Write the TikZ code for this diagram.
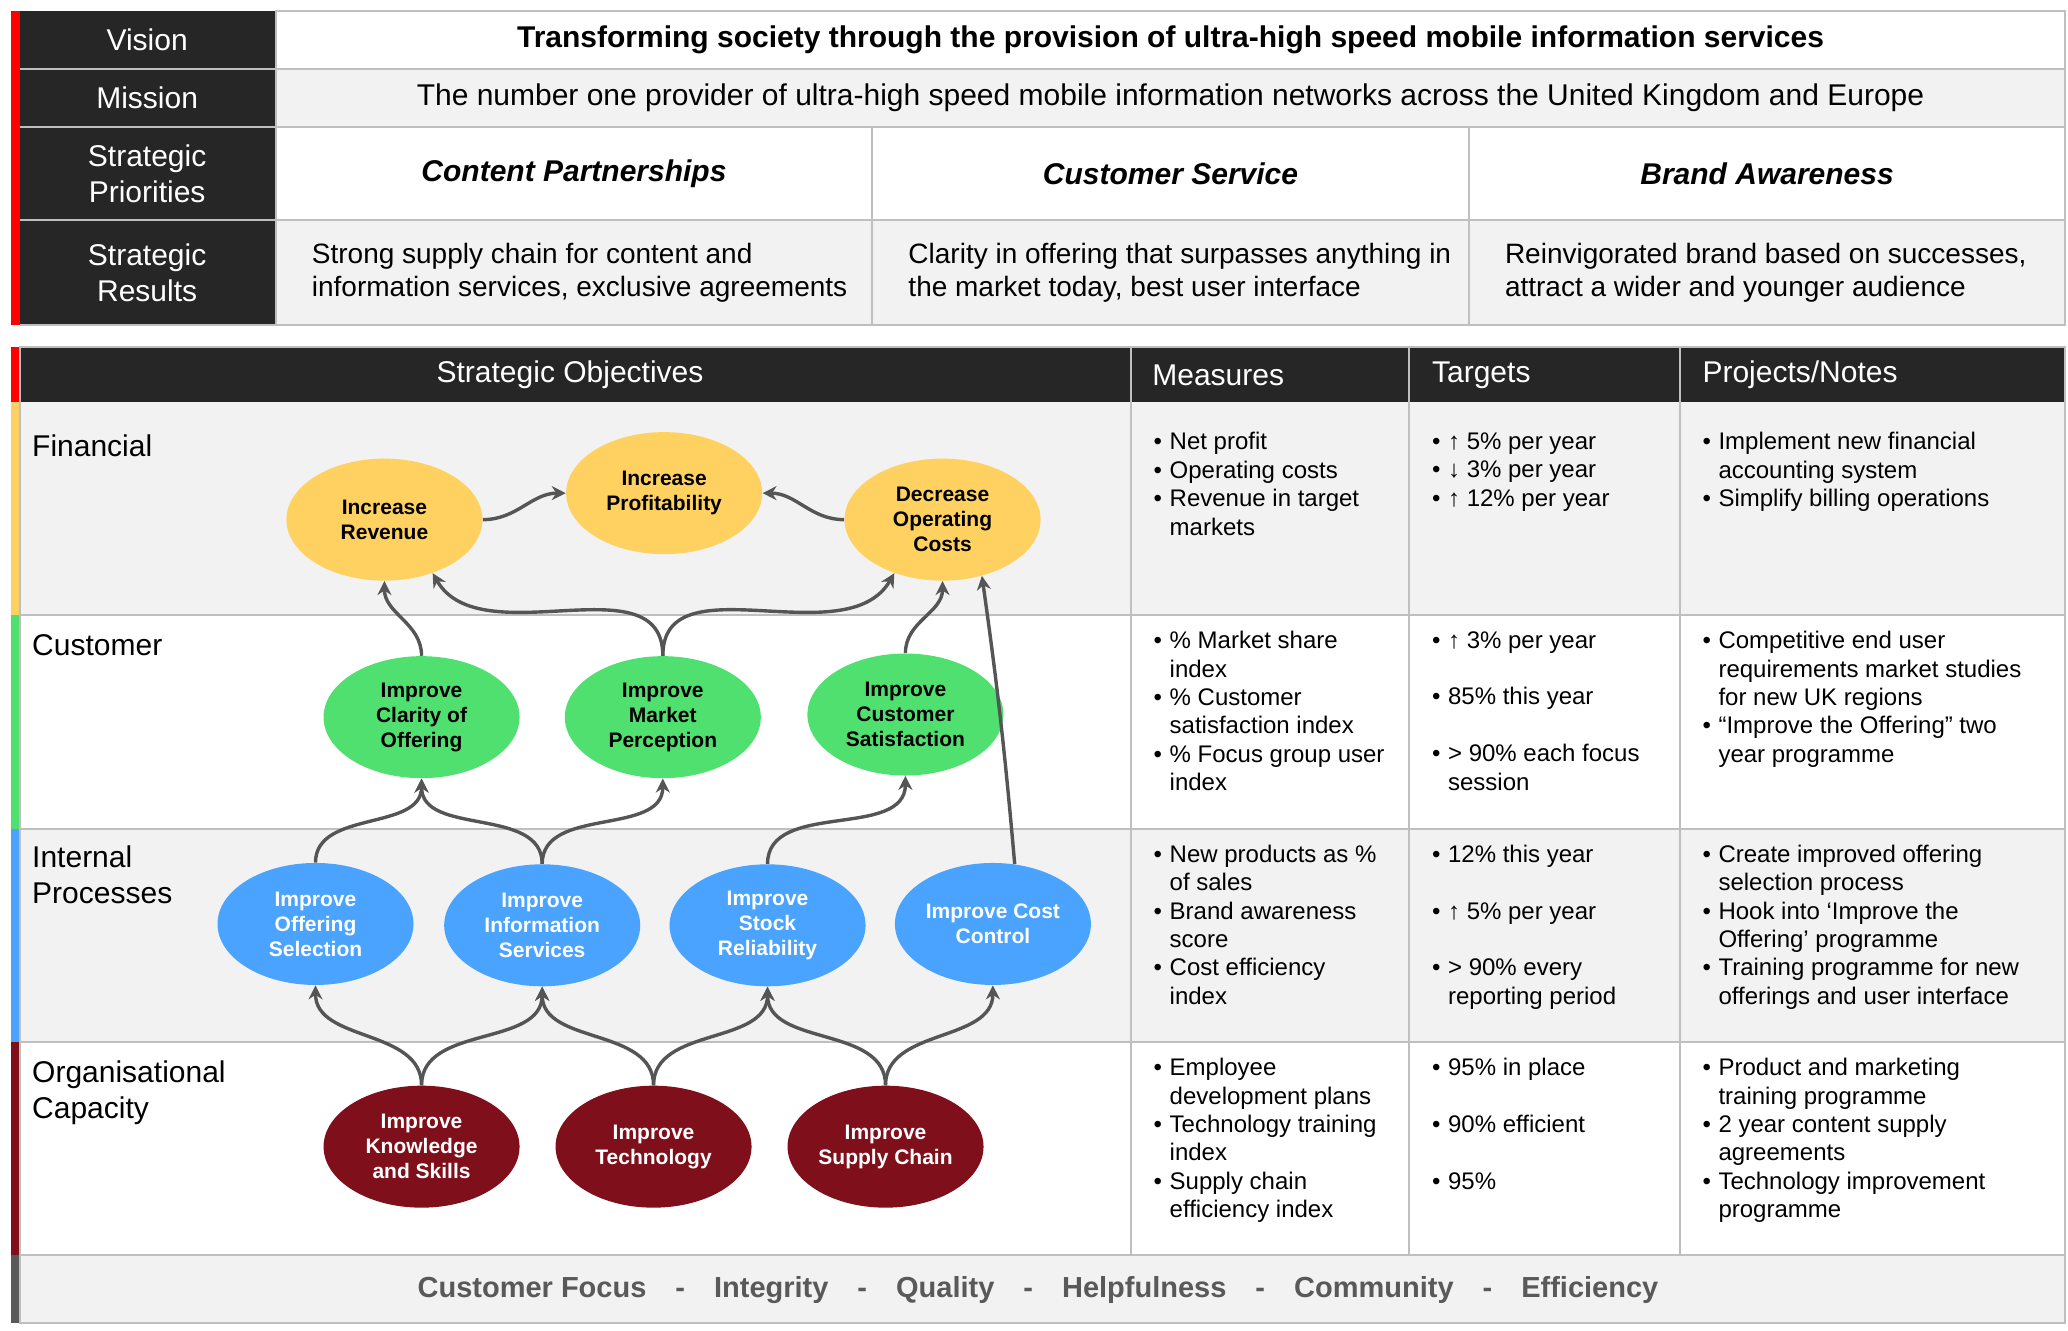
\documentclass[tikz,border=0pt]{standalone}
\usepackage{fontspec}
\setmainfont{Liberation Sans}
\usetikzlibrary{shapes.geometric, arrows.meta, positioning}
\definecolor{darkcell}{HTML}{262626}
\definecolor{rowgray}{HTML}{F2F2F2}
\definecolor{gridgray}{HTML}{BFBFBF}
\definecolor{linkgray}{HTML}{555555}
\definecolor{finyellow}{HTML}{FED160}
\definecolor{cusgreen}{HTML}{50E070}
\definecolor{ipblue}{HTML}{4AA3FF}
\definecolor{orgred}{HTML}{7F0F1A}
\definecolor{footgray}{HTML}{595959}
\newcommand{\bi}{\makebox[8pt][l]{\textbullet}}
\newcommand{\bc}{\hspace*{8pt}}
\tikzset{
  objective/.style={ellipse, minimum width=98pt, minimum height=61pt, inner sep=0pt, align=center,
    font=\fontsize{10.5}{12.5}\selectfont\bfseries},
  finobj/.style={objective, fill=finyellow},
  cusobj/.style={objective, fill=cusgreen},
  ipobj/.style={objective, fill=ipblue, text=white},
  orgobj/.style={objective, fill=orgred, text=white},
  link/.style={-{Stealth[length=7pt,width=7pt]}, line width=1.7pt, draw=linkgray},
  celltext/.style={anchor=north west, inner sep=0pt, align=left, font=\fontsize{12}{14.2}\selectfont},
  headtext/.style={font=\fontsize{15}{17}\selectfont, inner sep=0pt},
  sidelabel/.style={headtext, text=white, align=center, font=\fontsize{15}{18}\selectfont}
}
\begin{document}
\begin{tikzpicture}[x=0.6628pt, y=-0.6628pt]
\useasboundingbox (0,0) rectangle (1560,1003.4);

% top table
\fill[red] (8,8) rectangle (15,245);
\fill[darkcell] (15,8) rectangle (208,245);
\fill[rowgray] (208,52) rectangle (1558,96);
\fill[rowgray] (208,166) rectangle (1558,245);
\draw[gridgray, line width=1pt] (208,8) rectangle (1558,245);
\foreach \y in {52,96,166} \draw[gridgray, line width=1pt] (15,\y) -- (1558,\y);
\foreach \x in {658,1108} \draw[gridgray, line width=1pt] (\x,96) -- (\x,245);
\draw[gridgray, line width=1pt] (15,245) -- (208,245);

\node[sidelabel] (vision) at (111,30) {Vision};
\node[sidelabel] (mission) at (111,74) {Mission};
\node[sidelabel] (priorities) at (111,131) {Strategic\\Priorities};
\node[sidelabel] (results) at (111,206) {Strategic\\Results};

\node[headtext, font=\fontsize{15}{17}\selectfont\bfseries] (visiontext) at (883,30)
  {Transforming society through the provision of ultra-high speed mobile information services};
\node[headtext] (missiontext) at (883,74)
  {The number one provider of ultra-high speed mobile information networks across the United Kingdom and Europe};
\node[headtext, font=\fontsize{15}{17}\selectfont\bfseries\itshape] (prio1) at (433,131) {Content Partnerships};
\node[headtext, font=\fontsize{15}{17}\selectfont\bfseries\itshape] (prio2) at (883,131) {Customer Service};
\node[headtext, font=\fontsize{15}{17}\selectfont\bfseries\itshape] (prio3) at (1333,131) {Brand Awareness};
\node[headtext, anchor=west, align=left, font=\fontsize{14}{16.5}\selectfont] (res1) at (235,206)
  {Strong supply chain for content and\\information services, exclusive agreements};
\node[headtext, anchor=west, align=left, font=\fontsize{14}{16.5}\selectfont] (res2) at (685,206)
  {Clarity in offering that surpasses anything in\\the market today, best user interface};
\node[headtext, anchor=west, align=left, font=\fontsize{14}{16.5}\selectfont] (res3) at (1135,206)
  {Reinvigorated brand based on successes,\\attract a wider and younger audience};

% lower table
\fill[red] (8,262) rectangle (15,303);
\fill[darkcell] (15,262) rectangle (1558,303);
\fill[rowgray] (15,303) rectangle (1558,464);
\fill[rowgray] (15,625) rectangle (1558,786);
\fill[rowgray] (15,947) rectangle (1558,998);
\fill[finyellow] (8,303) rectangle (15,464);
\fill[cusgreen] (8,464) rectangle (15,625);
\fill[ipblue] (8,625) rectangle (15,786);
\fill[orgred] (8,786) rectangle (15,947);
\fill[footgray] (8,947) rectangle (15,998);
\draw[gridgray, line width=1pt] (15,262) rectangle (1558,998);
\foreach \y in {464,625,786,947} \draw[gridgray, line width=1pt] (15,\y) -- (1558,\y);
\foreach \x in {853,1063,1267} \draw[gridgray, line width=1pt] (\x,262) -- (\x,947);

\node[headtext, text=white] (objhead) at (430,283) {Strategic Objectives};
\node[headtext, text=white, anchor=west] (meahead) at (869,283) {Measures};
\node[headtext, text=white, anchor=west] (tarhead) at (1080,283) {Targets};
\node[headtext, text=white, anchor=west] (prohead) at (1284,283) {Projects/Notes};

\node[headtext, anchor=north west, align=left, font=\fontsize{15}{18}\selectfont] (finlabel) at (24,328) {Financial};
\node[headtext, anchor=north west, align=left, font=\fontsize{15}{18}\selectfont] (cuslabel) at (24,478) {Customer};
\node[headtext, anchor=north west, align=left, font=\fontsize{15}{18}\selectfont] (iplabel) at (24,638) {Internal\\Processes};
\node[headtext, anchor=north west, align=left, font=\fontsize{15}{18}\selectfont] (orglabel) at (24,800) {Organisational\\Capacity};

% measures, targets, notes
\node[celltext] (finmea) at (870,326) {\bi Net profit\\\bi Operating costs\\\bi Revenue in target\\\bc markets};
\node[celltext] (fintar) at (1080,326) {\bi ↑ 5\% per year\\\bi ↓ 3\% per year\\\bi ↑ 12\% per year};
\node[celltext] (finpro) at (1284,326) {\bi Implement new financial\\\bc accounting system\\\bi Simplify billing operations};

\node[celltext] (cusmea) at (870,476) {\bi \% Market share\\\bc index\\\bi \% Customer\\\bc satisfaction index\\\bi \% Focus group user\\\bc index};
\node[celltext] (custar) at (1080,476) {\bi ↑ 3\% per year\\[14.2pt]\bi 85\% this year\\[14.2pt]\bi > 90\% each focus\\\bc session};
\node[celltext] (cuspro) at (1284,476) {\bi Competitive end user\\\bc requirements market studies\\\bc for new UK regions\\\bi “Improve the Offering” two\\\bc year programme};

\node[celltext] (ipmea) at (870,637) {\bi New products as \%\\\bc of sales\\\bi Brand awareness\\\bc score\\\bi Cost efficiency\\\bc index};
\node[celltext] (iptar) at (1080,637) {\bi 12\% this year\\[14.2pt]\bi ↑ 5\% per year\\[14.2pt]\bi > 90\% every\\\bc reporting period};
\node[celltext] (ippro) at (1284,637) {\bi Create improved offering\\\bc selection process\\\bi Hook into ‘Improve the\\\bc Offering’ programme\\\bi Training programme for new\\\bc offerings and user interface};

\node[celltext] (orgmea) at (870,798) {\bi Employee\\\bc development plans\\\bi Technology training\\\bc index\\\bi Supply chain\\\bc efficiency index};
\node[celltext] (orgtar) at (1080,798) {\bi 95\% in place\\[14.2pt]\bi 90\% efficient\\[14.2pt]\bi 95\%};
\node[celltext] (orgpro) at (1284,798) {\bi Product and marketing\\\bc training programme\\\bi 2 year content supply\\\bc agreements\\\bi Technology improvement\\\bc programme};

% footer
\node[headtext, text=footgray, font=\fontsize{14.5}{16}\selectfont\bfseries] (values) at (783,973)
  {Customer Focus\quad-\quad Integrity\quad-\quad Quality\quad-\quad Helpfulness\quad-\quad Community\quad-\quad Efficiency};

% objectives
\node[finobj] (increv) at (290,392) {Increase\\Revenue};
\node[finobj] (incpro) at (501,372) {Increase\\Profitability};
\node[finobj] (deccost) at (711,392) {Decrease\\Operating\\Costs};
\node[cusobj] (clarity) at (318,541) {Improve\\Clarity of\\Offering};
\node[cusobj] (market) at (500,541) {Improve\\Market\\Perception};
\node[cusobj] (satisf) at (683,539) {Improve\\Customer\\Satisfaction};
\node[ipobj] (offsel) at (238,697) {Improve\\Offering\\Selection};
\node[ipobj] (infoserv) at (409,698) {Improve\\Information\\Services};
\node[ipobj] (stock) at (579,698) {Improve\\Stock\\Reliability};
\node[ipobj] (costctl) at (749,697) {Improve Cost\\Control};
\node[orgobj] (skills) at (318,865) {Improve\\Knowledge\\and Skills};
\node[orgobj] (tech) at (493,865) {Improve\\Technology};
\node[orgobj] (supply) at (668,865) {Improve\\Supply Chain};

% links
\draw[link] (increv.east) to[out=0,in=180] (incpro.west);
\draw[link] (deccost.west) to[out=180,in=0] (incpro.east);
\draw[link] (clarity.north) to[out=90,in=-90] (increv.south);
\draw[link] (market.north) to[out=90,in=-60] (increv.-48);
\draw[link] (market.north) to[out=90,in=-120] (deccost.-132);
\draw[link] (satisf.north) to[out=90,in=-90] (deccost.south);
\draw[link] (costctl.70) to[out=95,in=-82] (deccost.-55);
\draw[link] (offsel.north) to[out=90,in=-90] (clarity.south);
\draw[link] (infoserv.north) to[out=90,in=-90] (clarity.south);
\draw[link] (infoserv.north) to[out=90,in=-90] (market.south);
\draw[link] (stock.north) to[out=90,in=-90] (satisf.south);
\draw[link] (skills.north) to[out=90,in=-90] (offsel.south);
\draw[link] (skills.north) to[out=90,in=-90] (infoserv.south);
\draw[link] (tech.north) to[out=90,in=-90] (infoserv.south);
\draw[link] (tech.north) to[out=90,in=-90] (stock.south);
\draw[link] (supply.north) to[out=90,in=-90] (stock.south);
\draw[link] (supply.north) to[out=90,in=-90] (costctl.south);
\end{tikzpicture}
\end{document}
